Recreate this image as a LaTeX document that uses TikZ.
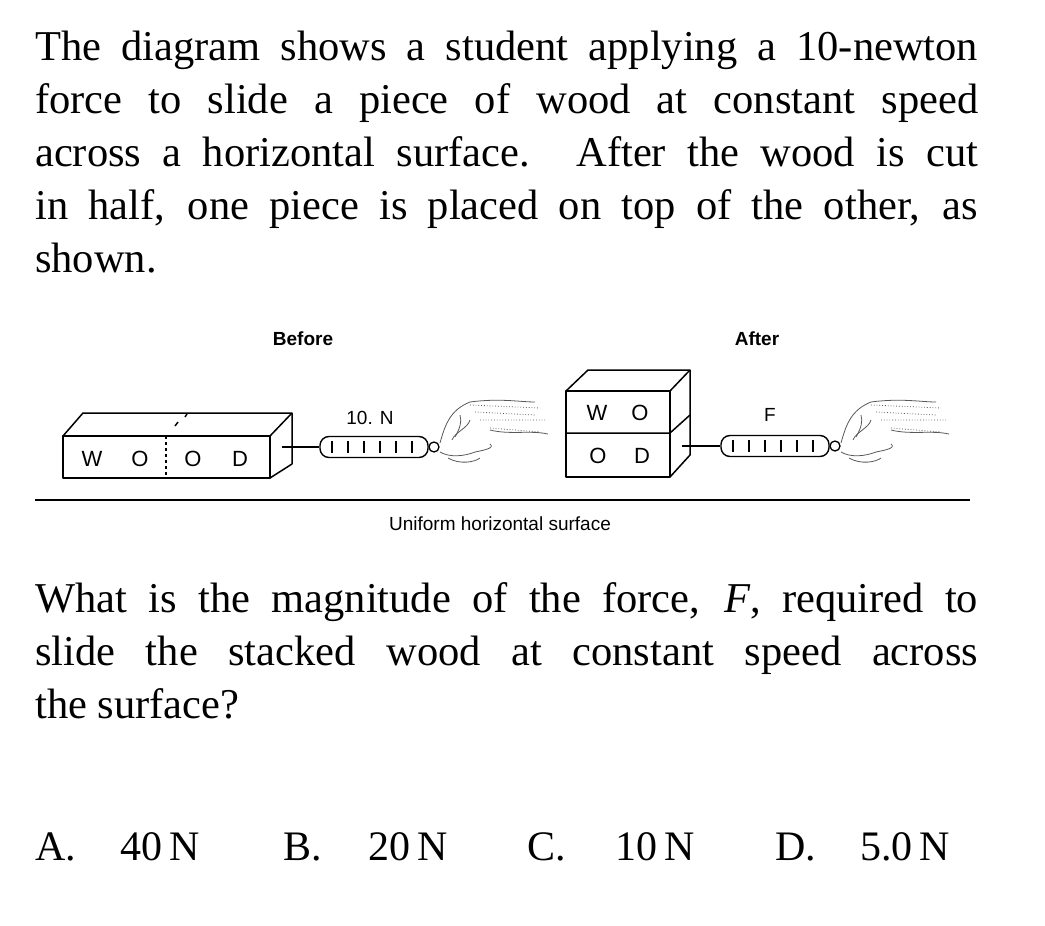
\documentclass[tikz,border=0pt]{standalone}
\usepackage{fontspec}
\setmainfont{Liberation Serif}
\newfontfamily\hv{Liberation Sans}
\begin{document}
\begin{tikzpicture}[x=1pt,y=-1pt,
  para/.style={anchor=base west,inner sep=0pt,text width=943pt,align=justify,font=\fontsize{42.5}{53}\selectfont},
  lab/.style={font=\hv\fontsize{19}{22}\selectfont,inner sep=0pt},
  letter/.style={font=\hv\fontsize{22}{26}\selectfont,inner sep=0pt},
  ans/.style={anchor=base west,inner sep=0pt,font=\fontsize{42}{48}\selectfont},
  edge/.style={line width=1.5pt,line join=round},
  springscale/.style={draw,line width=1.4pt,rounded corners=9pt,minimum width=108pt,minimum height=21pt,inner sep=0pt}]
\useasboundingbox (0,0) rectangle (1045,926);
\node[para] (p1) at (35,60) {The diagram shows a student applying a 10-newton\linebreak force to slide a piece of wood at constant speed\linebreak across a horizontal surface. After the wood is cut\linebreak in half, one piece is placed on top of the other, as\linebreak shown.};
\node[para] (p2) at (35,612) {What is the magnitude of the force, \textit{F}, required to\linebreak slide the stacked wood at constant speed across\linebreak the surface?};
\node[ans] (a1) at (35,860) {A.};\node[ans] (a2) at (120,860) {40\,N};
\node[ans] (b1) at (283,860) {B.};\node[ans] (b2) at (368,860) {20\,N};
\node[ans] (c1) at (527,860) {C.};\node[ans] (c2) at (615,860) {10\,N};
\node[ans] (d1) at (775,860) {D.};\node[ans] (d2) at (860,860) {5.0\,N};
\node[lab,font=\hv\bfseries\fontsize{19}{22}\selectfont] (before) at (303,339) {Before};
\node[lab,font=\hv\bfseries\fontsize{19}{22}\selectfont] (after) at (757,339) {After};
\node[lab] (surf) at (500,524) {Uniform horizontal surface};
\draw[line width=2.2pt] (35,500) -- (970,500);
% before block
\draw[edge] (63,436) rectangle (270,478);
\draw[edge] (63,436) -- (83,413) -- (292,413) -- (270,436);
\draw[edge] (292,413) -- (292,464) -- (270,478);
\draw[edge,dashed] (166,436) -- (166,478);
\draw[edge] (175,426) -- (178,422);
\draw[edge] (185,417) -- (187,414);
\node[letter] (w1) at (92,459) {W};
\node[letter] (o1) at (140,459) {O};
\node[letter] (o2) at (193,459) {O};
\node[letter] (d1l) at (240,459) {D};
\coordinate (hk1) at (282,447);
\node[springscale] (s1) at (374,447) {};
\foreach \i in {0,...,5} \draw[line width=1.2pt] (332+\i*16,441) -- (332+\i*16,453);
\draw[line width=1.4pt] (hk1) -- (s1.west);
\node[lab] (f1) at (370,418) {10. N};
\draw[line width=1.3pt] (434,447) circle (5);
% after block
\draw[edge] (566,391) rectangle (670,477);
\draw[edge] (566,433) -- (670,433) -- (690,415);
\draw[edge] (566,391) -- (588,370) -- (690,370) -- (670,391);
\draw[edge] (690,370) -- (690,455) -- (670,477);
\node[letter] (w2) at (597,413) {W};
\node[letter] (o3) at (640,413) {O};
\node[letter] (o4) at (598,456) {O};
\node[letter] (d2l) at (642,456) {D};
\coordinate (hk2) at (682,446);
\node[springscale] (s2) at (775,446) {};
\foreach \i in {0,...,5} \draw[line width=1.2pt] (733+\i*16,440) -- (733+\i*16,452);
\draw[line width=1.4pt] (hk2) -- (s2.west);
\node[lab] (f2) at (770,415) {F};
\draw[line width=1.3pt] (835,446) circle (5);
% hands
\foreach \dx in {0,401} {
\begin{scope}[xshift=\dx,gray!70!black,line width=0.8pt]
\draw (440,443) .. controls (445,425) and (450,410) .. (470,402) .. controls (500,398) and (520,402) .. (535,402);
\draw[dotted] (470,405) -- (540,408) (475,412) -- (535,415) (480,420) -- (545,420) (490,428) -- (540,432);
\draw (490,430) .. controls (510,435) and (530,430) .. (548,434);
\draw (440,452) .. controls (450,458) and (465,456) .. (475,452) .. controls (485,450) and (495,448) .. (490,444);
\draw (448,458) .. controls (460,465) and (475,462) .. (480,458);
\draw (455,437) .. controls (460,428) and (462,422) .. (460,415);
\draw (452,440) .. controls (455,432) and (468,428) .. (470,420);
\end{scope}}
\end{tikzpicture}
\end{document}
